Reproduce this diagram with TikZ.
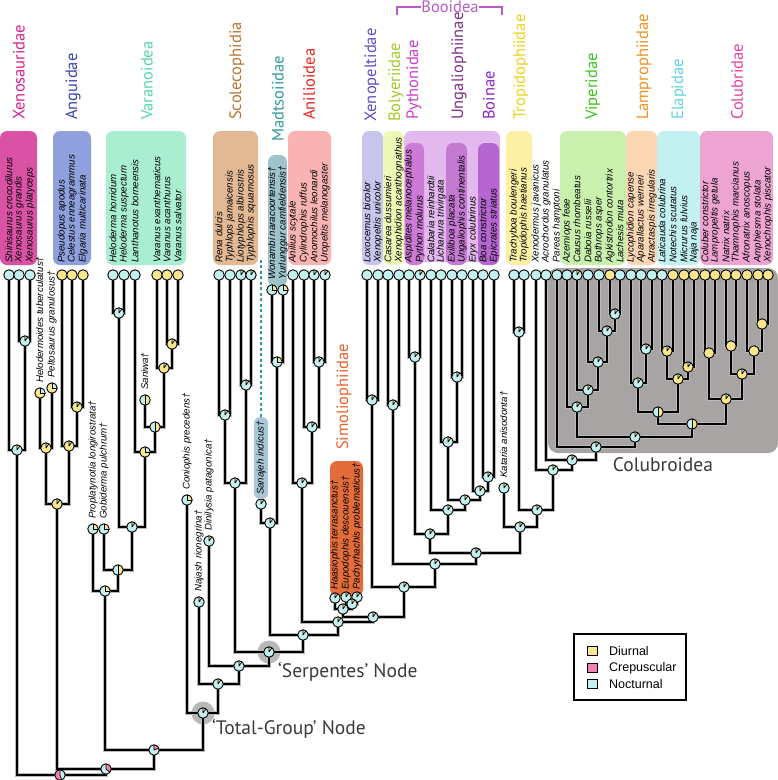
\documentclass[tikz,border=0pt]{standalone}
\usepackage{fontspec}
\setmainfont{Liberation Sans}
\newfontfamily\cladefam{PT Sans}
\usetikzlibrary{positioning}

\definecolor{noct}{RGB}{196,240,240}
\definecolor{diur}{RGB}{250,230,140}
\definecolor{crep}{RGB}{240,130,175}
\definecolor{bXen}{RGB}{217,82,165}\definecolor{cXen}{RGB}{212,32,140}
\definecolor{bAng}{RGB}{143,160,220}\definecolor{cAng}{RGB}{58,69,168}
\definecolor{bVar}{RGB}{170,238,210}\definecolor{cVar}{RGB}{85,214,165}
\definecolor{bSco}{RGB}{226,185,148}\definecolor{cSco}{RGB}{184,115,44}
\definecolor{bMad}{RGB}{159,195,203}\definecolor{cMad}{RGB}{47,154,154}
\definecolor{bAni}{RGB}{249,179,179}\definecolor{cAni}{RGB}{232,35,30}
\definecolor{bXnp}{RGB}{201,198,238}\definecolor{cXnp}{RGB}{94,79,196}
\definecolor{bBol}{RGB}{238,247,182}\definecolor{cBol}{RGB}{163,201,39}
\definecolor{bBoo}{RGB}{227,184,239}\definecolor{cBoo}{RGB}{185,91,200}
\definecolor{bPyt}{RGB}{204,122,214}\definecolor{cPyt}{RGB}{201,63,201}
\definecolor{bUng}{RGB}{197,122,210}\definecolor{cUng}{RGB}{127,47,134}
\definecolor{bBoi}{RGB}{181,102,208}\definecolor{cBoi}{RGB}{138,38,201}
\definecolor{bTro}{RGB}{251,240,163}\definecolor{cTro}{RGB}{233,211,28}
\definecolor{bVip}{RGB}{201,241,173}\definecolor{cVip}{RGB}{59,194,30}
\definecolor{bLam}{RGB}{251,214,180}\definecolor{cLam}{RGB}{240,144,30}
\definecolor{bEla}{RGB}{195,240,240}\definecolor{cEla}{RGB}{98,210,224}
\definecolor{bCol}{RGB}{238,164,210}\definecolor{cCol}{RGB}{230,63,158}
\definecolor{bSim}{RGB}{226,109,59}\definecolor{cSim}{RGB}{232,98,42}
\definecolor{bSan}{RGB}{168,200,216}
\definecolor{bClb}{RGB}{168,164,164}
\definecolor{labgray}{RGB}{58,58,58}

\newcommand\tipfont{\fontsize{9.7}{11}\selectfont\itshape}
\newcommand\cladefont{\cladefam\fontsize{16.5}{18}\selectfont}
\newcommand\bigfont{\cladefam\fontsize{19.5}{21}\selectfont}

\pgfdeclarelayer{boxes}
\pgfdeclarelayer{edges}
\pgfsetlayers{boxes,edges,main}

\tikzset{
  dot/.style={circle,draw,line width=0.9pt,minimum size=10.5pt,inner sep=0pt,fill=noct},
  pieslice/.style 2 args={path picture={
      \fill[#1] (path picture bounding box.center) -- +(90:9pt) -- +({90-#2/2}:13pt) -- +({90-#2}:9pt) -- cycle;
      \draw[line width=0.7pt] (path picture bounding box.center) -- +(90:6pt)
        (path picture bounding box.center) -- +({90-#2}:6pt);}},
  nN/.style={},
  nD/.style={fill=diur},
  nNt/.style={pieslice={diur}{35}},
  nNq/.style={pieslice={diur}{90}},
  nNh/.style={pieslice={diur}{180}},
  nDt/.style={fill=diur,pieslice={noct}{35}},
  nDq/.style={fill=diur,pieslice={noct}{90}},
  nC1/.style={pieslice={crep}{70}},
  nC2/.style={pieslice={crep}{130}},
  nC3/.style={fill=crep,pieslice={noct}{160}},
  tiplab/.style={rotate=90,anchor=west,inner sep=0pt,font=\tipfont},
  cladelab/.style={rotate=90,anchor=west,inner sep=0pt,font=\cladefont},
  halo/.style={line width=3.9pt,draw=gray!55},
  branch/.style={line width=2.3pt,draw=black},
  legsq/.style={draw,line width=0.9pt,minimum width=10pt,minimum height=9pt,inner sep=0pt},
  legtext/.style={font=\fontsize{12.5}{13}\selectfont,inner sep=0pt}
}

\begin{document}
\begin{tikzpicture}[x=1pt,y=-1pt]
\useasboundingbox (0,0) rectangle (778,780);

% tips
\foreach \i/\x/\s/\nm in {t1/9/nN/Shinisaurus crocodilurus, t2/19/nN/Xenosaurus grandis,
  t3/30/nN/Xenosaurus platyceps, t4/62/nD/Pseudopus apodus, t5/72/nD/Celestus enneagrammus,
  t6/83/nD/Elgaria multicarinata, t7/113/nN/Heloderma horridum, t8/124/nN/Heloderma suspectum,
  t9/135/nN/Lanthanotus borneensis, t10/157/nD/Varanus exanthematicus, t11/167/nD/Varanus acanthurus,
  t12/178/nD/Varanus salvator, t13/219/nN/Rena dulcis, t14/230/nN/Typhlops jamaicensis,
  t15/241/nNt/Liotyphlops albirostris, t16/251/nNt/Typhlophis squamosus, t17/293/nN/Anilius scytale,
  t18/304/nN/Cylindrophis ruffus, t19/314/nNt/Anomochilus leonardi, t20/325/nNt/Uropeltis melanogaster,
  t21/367/nN/Loxocemus bicolor, t22/378/nN/Xenopeltis unicolor, t23/388/nN/Casarea dussumieri,
  t24/399/nN/Xenophidion acanthognathus, t25/409/nN/Aspidites melanocephalus, t26/420/nNt/Python molurus,
  t27/431/nN/Calabaria reinhardtii, t28/441/nN/Lichanura trivirgata, t29/452/nN/Exiliboa placata,
  t30/462/nN/Ungaliophis continentalis, t31/473/nN/Eryx colubrinus, t32/483/nN/Boa constrictor,
  t33/494/nN/Epicrates striatus, t34/514/nN/Trachyboa boulengeri, t35/524/nN/Tropidophis haetianus,
  t36/536/nN/Xenodermus javanicus, t37/546/nN/Acrochordus granulatus, t38/557/nN/Pareas hamptoni,
  t39/567/nN/Azemiops feae, t40/577/nNt/Causus rhombeatus, t41/588/nN/Daboia russelii,
  t42/599/nN/Bothrops asper, t43/610/nD/Agkistrodon contortrix, t44/620/nN/Lachesis muta,
  t45/631/nN/Lycophidion capense, t46/641/nN/Aparallactus werneri, t47/652/nN/Atractaspis irregularis,
  t48/662/nN/Laticauda colubrina, t49/673/nD/Notechis scutatus, t50/684/nD/Micrurus fulvius,
  t51/694/nD/Naja naja, t52/705/nD/Coluber constrictor, t53/715/nD/Lampropeltis getula,
  t54/726/nD/Natrix natrix, t55/736/nD/Thamnophis marcianus, t56/747/nD/Afronatrix anoscopus,
  t57/758/nD/Amphiesma stolata, t58/768/nD/Xenochrophis piscator}
  {\node[dot,\s] (\i) at (\x,275) {};
   \node[tiplab] (\i-lab) at (\x,263) {\nm};}

% fossil tips
\foreach \i/\x/\y/\s/\nm in {f1/40/393/nDq/Helodermoides tuberculatus†, f2/52/388/nDq/Peltosaurus granulosus†,
  f3/93/529/nNq/Proplatynotia longirostrata†, f4/104/529/nNq/Gobiderma pulchrum†, f5/145/400/nNh/Saniwa†,
  f6/187/500/nNq/Coniophis precedens†, f7/199/602/nNt/Najash rionegrina†, f8/209/541/nNt/Dinilysia patagonica†,
  f15/504/488/nNt/Kataria anisodonta†}
  {\node[dot,\s] (\i) at (\x,\y) {};
   \node[tiplab] (\i-lab) at (\x,\y-10) {\nm};}
\node[dot,nNt] (f9) at (261,504) {};
\node[tiplab,anchor=center,fill=bSan,rounded corners=6pt,inner xsep=4pt,inner ysep=2.5pt] (f9-lab) at (261,458) {Sanajeh indicus†};
\coordinate (dashtop) at (261,258);
\node[dot,nNq] (f10) at (272,290) {};
\node[dot,nNq] (f11) at (283,290) {};
\node[tiplab] (f10-lab) at (272,280) {Wonambi naracoortensis†};
\node[tiplab] (f11-lab) at (283,280) {Yurlunggur camfieldensis†};
\node[dot,nNt] (f12) at (335,598) {};
\node[dot,nNt] (f13) at (346,597) {};
\node[dot,nNt] (f14) at (357,597) {};
\node[tiplab] (f12-lab) at (335,590) {Haasiophis terrasanctus†};
\node[tiplab] (f13-lab) at (346,590) {Eupodophis descouensis†};
\node[tiplab] (f14-lab) at (357,590) {Pachyrhachis problematicus†};

% internal nodes
\foreach \i/\x/\y/\s in {a1/25/341/nNt, a2/17/450/nNt,
  b1/46/448/nDt, b2/77/407/nDt, b3/69/446/nDt, b4/57/504/nDt,
  c1/119/313/nNt, c2/172/344/nDt, c3/164/368/nDt, c4/155/427/nNh, c5/145/452/nDq, c6/132/527/nNt,
  c7/118/570/nNh, c8/105/591/nNq,
  s1/225/415/nNt, s2/246/385/nNt, s3/235/483/nNt, m1/277/362/nNq, m2/270/523/nNt,
  an1/319/362/nNt, an2/312/427/nNt, an3/302/483/nNt, si1/352/604/nNt, si2/343/609/nNt,
  xp/372/400/nNt, bo/393/405/nNt, py/415/357/nNt, un/457/377/nNt, g1/448/442/nNt,
  boi/488/477/nNt, g2/480/491/nNt, g3/465/500/nNt, g4/448/510/nNt, g5/430/534/nNt,
  tr/519/332/nNt, v5/615/314/nNt, v4/607/331/nNt, v3/598/362/nNt, v2/588/390/nNt, v1/577/407/nNt,
  l2/646/349/nNt, l1/638/383/nNt, e1/667/351/nDt, e2/688/367/nDt, e3/678/379/nDt, le/658/412/nNh,
  q1/709/353/nD, q2/731/346/nD, q3/762/324/nD, q4/754/351/nD, q5/742/374/nDt, q6/726/399/nDt,
  lec/692/424/nNh, vl/635/437/nNt, p1/596/447/nNt, p2/572/460/nNt, p3/553/470/nNt,
  k1/537/510/nNt, k2/520/527/nNt, k3/476/553/nNt, k4/435/564/nNt, k5/404/587/nNt, k6/373/617/nNt,
  k7/338/622/nNt, k8/303/635/nNt, serp/269/652/nNt, k9/239/666/nNt, k10/218/684/nNt,
  tot/203/713/nNt, r1/154/750/nC1, r2/106/769/nC2, root/60/775/nC3}
  {\node[dot,\s] (\i) at (\x,\y) {};}

% clade labels
\foreach \i/\x/\y/\c/\nm in {xen/19/120/cXen/Xenosauridae, ang/73/120/cAng/Anguidae, var/147/120/cVar/Varanoidea,
  sco/237/120/cSco/Scolecophidia, mad/278/142/cMad/Madtsoiidae, ani/309/120/cAni/Anilioidea,
  xnp/372/122/cXnp/Xenopeltidae, bol/396/122/cBol/Bolyeriidae, pyt/414/120/cPyt/Pythonidae,
  ung/459/120/cUng/Ungaliophiinae, boi/489/120/cBoi/Boinae, tro/521/120/cTro/Tropidophiidae,
  vip/593/120/cVip/Viperidae, lam/644/120/cLam/Lamprophiidae, ela/679/120/cEla/Elapidae,
  col/737/120/cCol/Colubridae, sim/344/450/cSim/Simoliophiidae}
  {\node[cladelab,text=\c] (lab-\i) at (\x,\y) {\nm};}
\node[inner sep=0pt,font=\cladefont,text=cBoo] (lab-boo) at (450,7) {Booidea};
\draw[cBoo,line width=1.6pt] (397,15) |- (lab-boo.west);
\draw[cBoo,line width=1.6pt] (lab-boo.east) -| (502,15);

\node[anchor=west,inner sep=0pt,font=\bigfont,text=labgray] (serp-lab) at (278,672) {‘Serpentes’ Node};
\node[anchor=west,inner sep=0pt,font=\bigfont,text=labgray] (tot-lab) at (212,729) {‘Total-Group’ Node};
\node[inner sep=0pt,font=\bigfont,text=labgray] (clb-lab) at (663,465) {Colubroidea};

% legend
\node[draw,line width=1.3pt,minimum width=112pt,minimum height=66pt] (legend) at (630,667) {};
\node[legsq,fill=diur] (leg1) at (592.5,651) {};
\node[legsq,fill=crep] (leg2) at (592.5,668) {};
\node[legsq,fill=noct] (leg3) at (592.5,684) {};
\node[legtext,right=11pt of leg1] (leg1-lab) {Diurnal};
\node[legtext,right=11pt of leg2] (leg2-lab) {Crepuscular};
\node[legtext,right=11pt of leg3] (leg3-lab) {Nocturnal};

\begin{pgfonlayer}{boxes}
\foreach \a/\b/\c/\d/\col in {0/131/37/265/bXen, 53/131/91/265/bAng, 106/131/186/265/bVar,
  213/131/258/265/bSco, 268/155/287/287/bMad, 288/131/331/265/bAni, 362/131/383/265/bXnp,
  383/131/404/265/bBol, 404/131/500/262/bBoo, 405/143/424/265/bPyt, 446/143/467/265/bUng,
  478/143/499/265/bBoi, 506/131/532/265/bTro, 560/131/626/265/bVip, 626/131/657/265/bLam,
  657/131/700/265/bEla, 700/131/773/265/bCol, 330/461/363/596/bSim}
  \fill[\col,rounded corners=7pt] (\a,\b) rectangle (\c,\d);
\fill[bClb,rounded corners=10pt] (548,268) rectangle (778,453);
\fill[gray!55] (serp) circle (11.5pt);
\fill[gray!55] (tot) circle (11.5pt);
\end{pgfonlayer}

\begin{pgfonlayer}{edges}
\draw[cMad,dashed,line width=1.2pt,dash pattern=on 3pt off 2.5pt] (f9-lab.east) -- (dashtop);
\foreach \st in {halo,branch}
\foreach \p/\c in {a1/t2, a1/t3, a2/t1, a2/a1,
  b1/f1, b1/f2, b2/t5, b2/t6, b3/t4, b3/b2, b4/b1, b4/b3,
  c1/t7, c1/t8, c2/t11, c2/t12, c3/t10, c3/c2, c4/f5, c4/c3, c5/t9, c5/c4, c6/c1, c6/c5,
  c7/f4, c7/c6, c8/f3, c8/c7,
  s1/t13, s1/t14, s2/t15, s2/t16, s3/s1, s3/s2, m1/f10, m1/f11, m2/f9, m2/m1,
  an1/t19, an1/t20, an2/t18, an2/an1, an3/t17, an3/an2, si1/f13, si1/f14, si2/f12, si2/si1,
  xp/t21, xp/t22, bo/t23, bo/t24, py/t25, py/t26, un/t29, un/t30, g1/t28, g1/un,
  boi/t32, boi/t33, g2/t31, g2/boi, g3/g1, g3/g2, g4/t27, g4/g3, g5/py, g5/g4, tr/t34, tr/t35,
  v5/t43, v5/t44, v4/t42, v4/v5, v3/t41, v3/v4, v2/t40, v2/v3, v1/t39, v1/v2,
  l2/t46, l2/t47, l1/t45, l1/l2, e1/t48, e1/t49, e2/t50, e2/t51, e3/e1, e3/e2, le/l1, le/e3,
  q1/t52, q1/t53, q2/t54, q2/t55, q3/t57, q3/t58, q4/t56, q4/q3, q5/q2, q5/q4, q6/q1, q6/q5,
  lec/le, lec/q6, vl/v1, vl/lec, p1/t38, p1/vl, p2/t37, p2/p1, p3/t36, p3/p2,
  k1/tr, k1/p3, k2/f15, k2/k1, k3/g5, k3/k2, k4/bo, k4/k3, k5/xp, k5/k4, k6/si2, k6/k5,
  k7/an3, k7/k6, k8/m2, k8/k7, serp/s3, serp/k8, k9/f8, k9/serp, k10/f7, k10/k9,
  tot/f6, tot/k10, r1/c8, r1/tot, r2/b4, r2/r1, root/a2, root/r2}
  \draw[\st] (\c.center) |- (\p.center);
\end{pgfonlayer}
\end{tikzpicture}
\end{document}
